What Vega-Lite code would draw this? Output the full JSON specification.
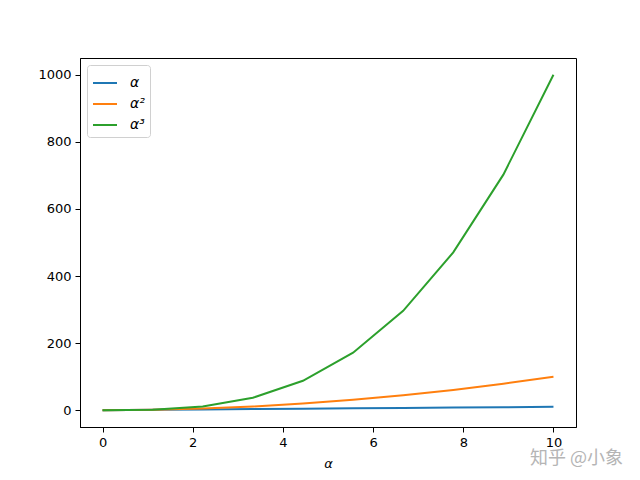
{
  "$schema": "https://vega.github.io/schema/vega-lite/v6.json",
  "width": 496,
  "height": 369,
  "autosize": {"type": "none"},
  "padding": {"left": 80, "top": 58, "right": 64, "bottom": 53},
  "background": "white",
  "title": {
    "text": "知乎 @小象",
    "orient": "bottom",
    "anchor": "end",
    "offset": -20,
    "dx": 47,
    "fontSize": 18,
    "fontWeight": "normal",
    "color": "#b5b5b5",
    "font": "Noto Sans CJK SC"
  },
  "data": {
    "values": [
      {"x": 0, "y": 0, "series": "α"},
      {"x": 1.111, "y": 1.111, "series": "α"},
      {"x": 2.222, "y": 2.222, "series": "α"},
      {"x": 3.333, "y": 3.333, "series": "α"},
      {"x": 4.444, "y": 4.444, "series": "α"},
      {"x": 5.556, "y": 5.556, "series": "α"},
      {"x": 6.667, "y": 6.667, "series": "α"},
      {"x": 7.778, "y": 7.778, "series": "α"},
      {"x": 8.889, "y": 8.889, "series": "α"},
      {"x": 10, "y": 10, "series": "α"},
      {"x": 0, "y": 0, "series": "α²"},
      {"x": 1.111, "y": 1.23, "series": "α²"},
      {"x": 2.222, "y": 4.94, "series": "α²"},
      {"x": 3.333, "y": 11.1, "series": "α²"},
      {"x": 4.444, "y": 19.8, "series": "α²"},
      {"x": 5.556, "y": 30.9, "series": "α²"},
      {"x": 6.667, "y": 44.4, "series": "α²"},
      {"x": 7.778, "y": 60.5, "series": "α²"},
      {"x": 8.889, "y": 79.0, "series": "α²"},
      {"x": 10, "y": 100, "series": "α²"},
      {"x": 0, "y": 0, "series": "α³"},
      {"x": 1.111, "y": 1.37, "series": "α³"},
      {"x": 2.222, "y": 11.0, "series": "α³"},
      {"x": 3.333, "y": 37.0, "series": "α³"},
      {"x": 4.444, "y": 87.8, "series": "α³"},
      {"x": 5.556, "y": 171.5, "series": "α³"},
      {"x": 6.667, "y": 296.3, "series": "α³"},
      {"x": 7.778, "y": 470.5, "series": "α³"},
      {"x": 8.889, "y": 702.3, "series": "α³"},
      {"x": 10, "y": 1000, "series": "α³"}
    ]
  },
  "mark": {"type": "line", "strokeWidth": 2},
  "encoding": {
    "x": {
      "field": "x",
      "type": "quantitative",
      "title": "α",
      "scale": {"domain": [-0.5, 10.5], "nice": false, "zero": false},
      "axis": {"values": [0, 2, 4, 6, 8, 10], "titleFontStyle": "italic", "titlePadding": 8}
    },
    "y": {
      "field": "y",
      "type": "quantitative",
      "title": null,
      "scale": {"domain": [-50, 1050], "nice": false, "zero": false},
      "axis": {"values": [0, 200, 400, 600, 800, 1000], "format": "d"}
    },
    "color": {
      "field": "series",
      "type": "nominal",
      "title": null,
      "scale": {"domain": ["α", "α²", "α³"], "range": ["#1f77b4", "#ff7f0e", "#2ca02c"]},
      "legend": {
        "orient": "top-left",
        "offset": 7,
        "symbolType": "stroke",
        "symbolSize": 576,
        "symbolStrokeWidth": 2,
        "labelFontStyle": "italic",
        "labelFontSize": 14,
        "labelOffset": 12,
        "rowPadding": 1,
        "padding": 5,
        "strokeColor": "#d0d0d0",
        "fillColor": "white",
        "cornerRadius": 3
      }
    }
  },
  "config": {
    "font": "DejaVu Sans",
    "view": {"stroke": "black", "strokeWidth": 1},
    "axis": {
      "grid": false,
      "domainColor": "black",
      "domainWidth": 1,
      "tickColor": "black",
      "tickSize": 5,
      "tickWidth": 1,
      "labelColor": "black",
      "labelFontSize": 13,
      "labelPadding": 4,
      "titleColor": "black",
      "titleFontSize": 13,
      "titleFontWeight": "normal"
    },
    "legend": {"labelColor": "black"}
  }
}
